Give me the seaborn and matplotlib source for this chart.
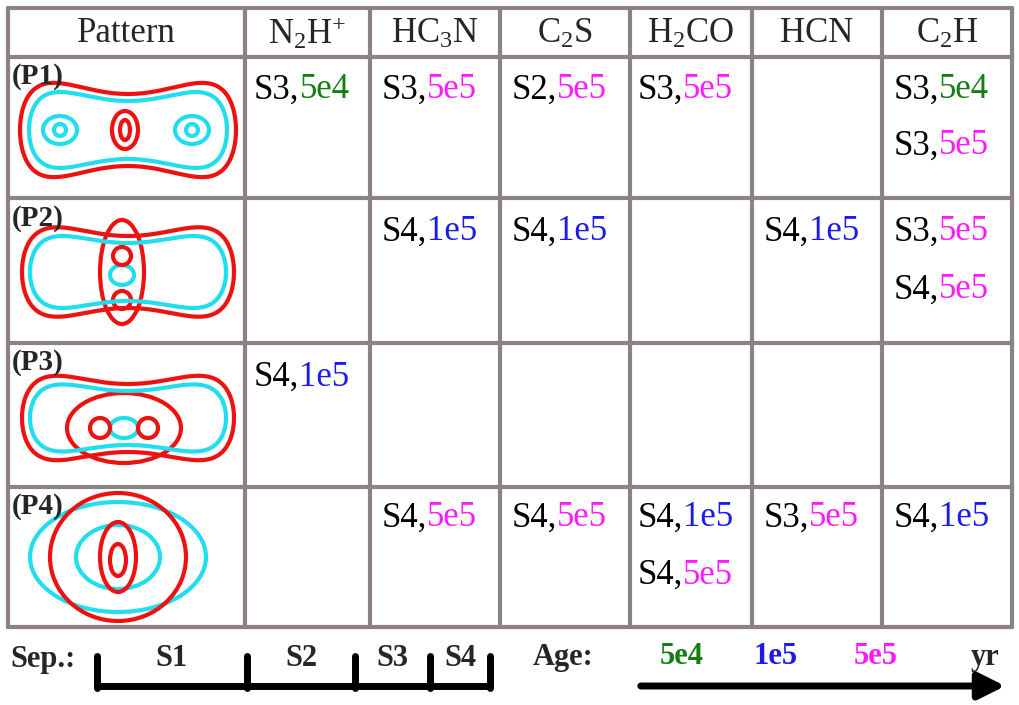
import numpy as np
import matplotlib
matplotlib.use("Agg")
import matplotlib.pyplot as plt
import seaborn as sns
from matplotlib.patches import Ellipse

sns.set_style("white")
plt.rcParams['font.family'] = ['Liberation Serif', 'DejaVu Serif']
plt.rcParams['mathtext.fontset'] = 'custom'
plt.rcParams['mathtext.rm'] = 'Liberation Serif'
plt.rcParams['mathtext.it'] = 'Liberation Serif:italic'
plt.rcParams['mathtext.bf'] = 'Liberation Serif:bold'

headers = ["Pattern", r"N$_\mathrm{2}$H$^\mathrm{+}$", r"HC$_\mathrm{3}$N", r"C$_\mathrm{2}$S",
           r"H$_\mathrm{2}$CO", "HCN", r"C$_\mathrm{2}$H"]
patterns = ["(P1)", "(P2)", "(P3)", "(P4)"]
# entries: (row, col, line, stage, age)
entries = [
    (0, 1, 0, "S3", "5e4"), (0, 2, 0, "S3", "5e5"), (0, 3, 0, "S2", "5e5"),
    (0, 4, 0, "S3", "5e5"), (0, 6, 0, "S3", "5e4"), (0, 6, 1, "S3", "5e5"),
    (1, 2, 0, "S4", "1e5"), (1, 3, 0, "S4", "1e5"), (1, 5, 0, "S4", "1e5"),
    (1, 6, 0, "S3", "5e5"), (1, 6, 1, "S4", "5e5"),
    (2, 1, 0, "S4", "1e5"),
    (3, 2, 0, "S4", "5e5"), (3, 3, 0, "S4", "5e5"), (3, 4, 0, "S4", "1e5"),
    (3, 4, 1, "S4", "5e5"), (3, 5, 0, "S3", "5e5"), (3, 6, 0, "S4", "1e5"),
]
age_colors = {"5e4": "#137f13", "1e5": "#1a1aee", "5e5": "#ff1aff"}
sep_labels = ["S1", "S2", "S3", "S4"]
sep_edges = [97, 247, 355, 430, 490]

col_edges = [8, 245, 370, 500, 630, 752, 882, 1012]
row_edges = [8, 57, 198, 343, 487, 627]
row_text_y = [(90, 146), (232, 290), (377, 0), (518, 575)]

fig = plt.figure(figsize=(10.2, 7.05), dpi=100)
ax = fig.add_axes([0, 0, 1, 1])
ax.set_xlim(0, 1020); ax.set_ylim(705, 0); ax.axis("off")

grid = "#8c8282"
for x in col_edges:
    ax.plot([x, x], [row_edges[0], row_edges[-1]], color=grid, lw=3)
for y in row_edges:
    ax.plot([col_edges[0], col_edges[-1]], [y, y], color=grid, lw=3)

fs = 25
for i, h in enumerate(headers):
    cx = (col_edges[i] + col_edges[i + 1]) / 2
    ax.text(cx, 34, h, ha="center", va="center", fontsize=fs)
for r, p in enumerate(patterns):
    ax.text(12, row_edges[r + 1] + 20, p, ha="left", va="center", fontsize=21, fontweight="bold")

for r, c, line, st, age in entries:
    cx = (col_edges[c] + col_edges[c + 1]) / 2 - 8
    y = row_text_y[r][line]
    ax.text(cx, y, st + ",", ha="right", va="center", fontsize=fs, color="black")
    ax.text(cx, y, age, ha="left", va="center", fontsize=fs, color=age_colors[age])

RED, CYAN = "#ee1111", "#22ddee"

def peanut(cx, cy, a, b, k, color):
    t = np.linspace(0, 2 * np.pi, 400)
    x = cx + a * np.cos(t)
    y = cy + b * np.sin(t) * (1 + k * np.cos(t) ** 2)
    ax.plot(x, y, color=color, lw=3)

def ell(cx, cy, rx, ry, color):
    ax.add_patch(Ellipse((cx, cy), 2 * rx, 2 * ry, fill=False, ec=color, lw=3))

# P1
peanut(128, 130, 108, 36, 1.7, RED); peanut(128, 130, 99, 29, 1.7, CYAN)
ell(125, 130, 13, 19, RED); ell(125, 130, 5, 10, RED)
for x0 in (60, 192):
    ell(x0, 130, 17, 14, CYAN); ell(x0, 130, 6, 6, CYAN)
# P2
peanut(128, 272, 106, 36, 1.5, RED); peanut(128, 272, 98, 29, 1.5, CYAN)
ell(122, 272, 22, 52, RED); ell(122, 275, 12, 10, CYAN)
ell(122, 256, 9, 9, RED); ell(122, 300, 9, 9, RED)
# P3
peanut(128, 418, 106, 34, 1.5, RED); peanut(128, 418, 98, 27, 1.5, CYAN)
ell(124, 428, 57, 35, RED); ell(124, 428, 14, 10, CYAN)
ell(100, 428, 10, 10, RED); ell(148, 428, 10, 10, RED)
# P4
ell(118, 557, 88, 55, CYAN); ell(118, 557, 68, 64, RED)
ell(118, 557, 42, 32, CYAN); ell(118, 557, 18, 35, RED); ell(118, 560, 8, 16, RED)

# Bottom legend
bf = 22
ax.text(10, 659, "Sep.:", ha="left", va="center", fontsize=bf, fontweight="bold")
ax.plot([sep_edges[0], sep_edges[-1]], [686, 686], color="black", lw=5, solid_capstyle="butt")
for x in sep_edges:
    ax.plot([x, x], [656, 688], color="black", lw=5)
for i, s in enumerate(sep_labels):
    ax.text((sep_edges[i] + sep_edges[i + 1]) / 2, 658, s, ha="center", va="center",
            fontsize=bf, fontweight="bold")
ax.text(533, 658, "Age:", ha="left", va="center", fontsize=bf, fontweight="bold")
for x, a in zip([682, 776, 876], ["5e4", "1e5", "5e5"]):
    ax.text(x, 656, a, ha="center", va="center", fontsize=bf, fontweight="bold", color=age_colors[a])
ax.text(985, 658, "yr", ha="center", va="center", fontsize=bf, fontweight="bold")
ax.annotate("", xy=(1008, 686), xytext=(638, 686),
            arrowprops=dict(arrowstyle="-|>,head_length=1.6,head_width=0.8", lw=5, color="black"))

fig.savefig("out.png", dpi=100, facecolor="white")
